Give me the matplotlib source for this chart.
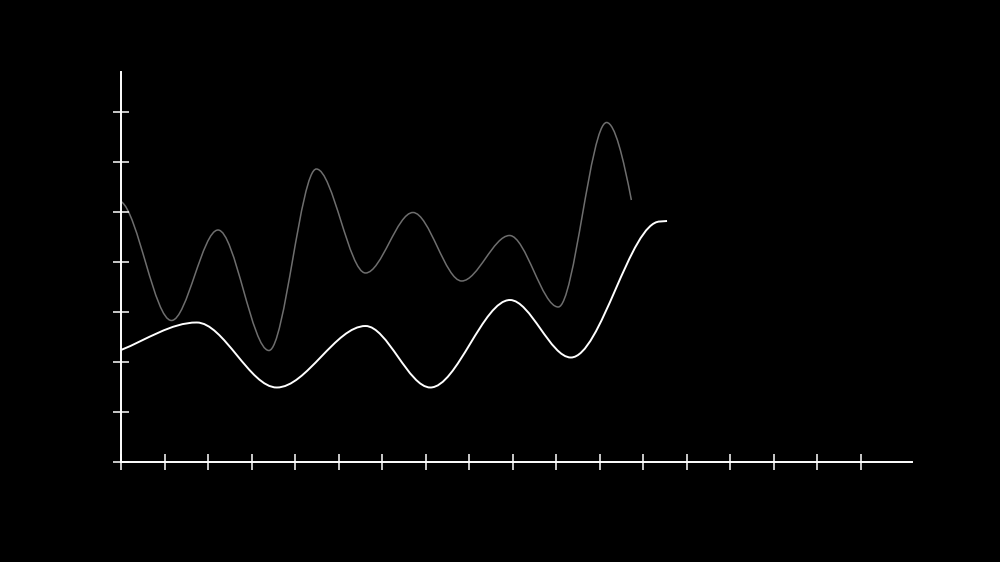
"""
Two smooth wave lines on a bare black axis frame (no labels).
Curves are drawn as cubic Bezier paths through the read-off turning points.
"""

import numpy as np
import matplotlib
matplotlib.use('Agg')
import matplotlib.pyplot as plt
from matplotlib.path import Path
from matplotlib.patches import PathPatch

# --- data (x in tick units, y in tick units) ---
gray_x = [0.00, 1.16, 2.23, 3.40, 4.49, 5.62, 6.71, 7.83, 8.93, 10.05, 11.16, 11.73]
gray_y = [5.21, 2.83, 4.64, 2.23, 5.86, 3.78, 4.99, 3.62, 4.53, 3.10, 6.79, 5.24]
gray_slope = [-0.5, 0, 0, 0, 0, 0, 0, 0, 0, 0, 0, -4.5]

white_x = [0.00, 1.74, 3.58, 5.62, 7.11, 8.94, 10.34, 12.39, 12.55]
white_y = [2.24, 2.79, 1.49, 2.72, 1.49, 3.24, 2.09, 4.81, 4.82]
white_slope = [0.35, 0, 0, 0, 0, 0, 0, 0, 0]

x_ticks = list(range(0, 18))
y_ticks = list(range(0, 8))
X_MAX, Y_MAX = 18.18, 7.8


def hermite_path(xs, ys, ms):
    verts = [(xs[0], ys[0])]
    codes = [Path.MOVETO]
    for i in range(len(xs) - 1):
        dx = xs[i + 1] - xs[i]
        verts += [(xs[i] + dx / 3, ys[i] + ms[i] * dx / 3),
                  (xs[i + 1] - dx / 3, ys[i + 1] - ms[i + 1] * dx / 3),
                  (xs[i + 1], ys[i + 1])]
        codes += [Path.CURVE4] * 3
    return Path(verts, codes)


fig = plt.figure(figsize=(10, 5.62), dpi=100, facecolor='black')
ax = fig.add_axes([0.121, (562 - 462) / 562, (912 - 121) / 1000, (462 - 72) / 562])
ax.set_facecolor('black')

ax.add_patch(PathPatch(hermite_path(gray_x, gray_y, gray_slope),
                       facecolor='none', edgecolor='#6e6e6e', linewidth=1.1))
ax.add_patch(PathPatch(hermite_path(white_x, white_y, white_slope),
                       facecolor='none', edgecolor='white', linewidth=1.4))

ax.set_xlim(0, X_MAX)
ax.set_ylim(0, Y_MAX)
ax.set_xticks(x_ticks)
ax.set_yticks(y_ticks)
ax.tick_params(which='both', direction='inout', length=11.5, width=1.1,
               color='white', labelbottom=False, labelleft=False)
for side in ('top', 'right'):
    ax.spines[side].set_visible(False)
for side in ('left', 'bottom'):
    ax.spines[side].set_color('white')
    ax.spines[side].set_linewidth(1.4)

fig.savefig('out.png', dpi=100, facecolor='black')
